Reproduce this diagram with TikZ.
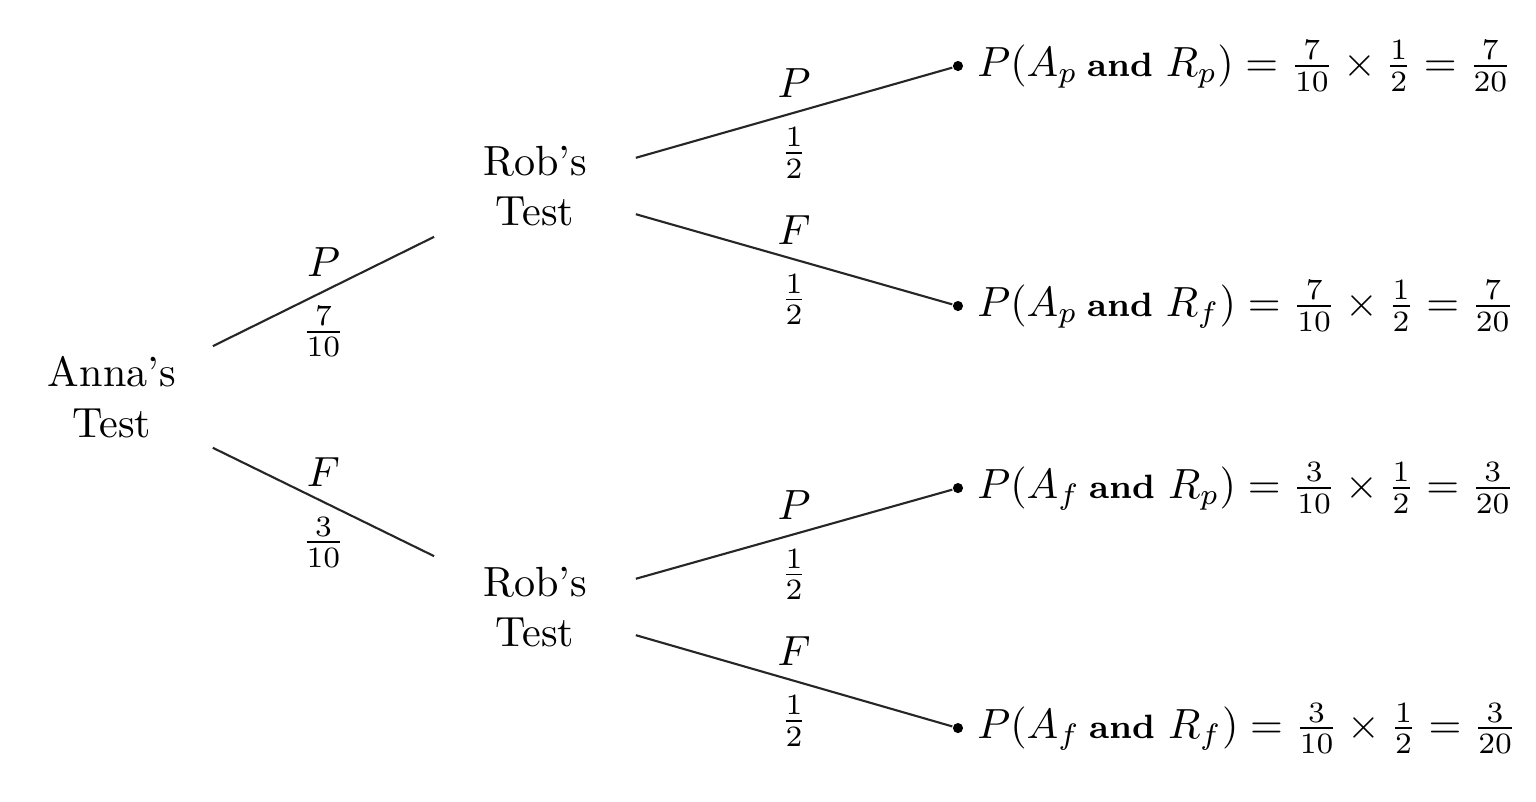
\documentclass[tikz,border=0pt]{standalone}
\usepackage{amsmath}
\usetikzlibrary{positioning}
\newcommand{\andw}{\text{\footnotesize\bfseries\hspace{2.2pt}and\hspace{3pt}}}
\tikzset{
 test/.style={align=center,minimum width=1.667cm,minimum height=.833cm,inner sep=0pt},
 branch/.style={draw=black!85,line width=.5pt},
 leaf/.style={circle,fill=black,inner sep=0pt,minimum size=2.4pt},
 result/.style={anchor=west,inner sep=3pt},
}
\begin{document}
\begin{tikzpicture}

\useasboundingbox (0,0) rectangle (12.8,-6.683);
\node[test] (anna) at (.933,-3.308) {Anna’s\\Test};
\node[test] (robp) at (4.458,-1.55) {Rob’s\\Test};
\node[test] (robf) at (4.458,-5.058) {Rob’s\\Test};

\draw[branch] (anna.north east) -- node[above] {$P$} node[below] {$\frac{7}{10}$} (robp.south west);
\draw[branch] (anna.south east) -- node[above] {$F$} node[below] {$\frac{3}{10}$} (robf.north west);

\node[leaf] (pp) at (7.983,-.55) {};
\node[leaf] (pf) at (7.983,-2.55) {};
\node[leaf] (fp) at (7.983,-4.067) {};
\node[leaf] (ff) at (7.983,-6.067) {};

\foreach \r/\a in {robp/p,robf/f} {
  \draw[branch] ([yshift=.235cm]\r.east) -- node[above] {$P$} node[below] {$\frac{1}{2}$} (\a p);
  \draw[branch] ([yshift=-.235cm]\r.east) -- node[above] {$F$} node[below] {$\frac{1}{2}$} (\a f);
}

\node[result] (rpp) at (pp.east) {$P(A_p\andw R_p)=\frac{7}{10}\times\frac{1}{2}=\frac{7}{20}$};
\node[result] (rpf) at (pf.east) {$P(A_p\andw R_f)=\frac{7}{10}\times\frac{1}{2}=\frac{7}{20}$};
\node[result] (rfp) at (fp.east) {$P(A_f\andw R_p)=\frac{3}{10}\times\frac{1}{2}=\frac{3}{20}$};
\node[result] (rff) at (ff.east) {$P(A_f\andw R_f)=\frac{3}{10}\times\frac{1}{2}=\frac{3}{20}$};

\end{tikzpicture}
\end{document}
